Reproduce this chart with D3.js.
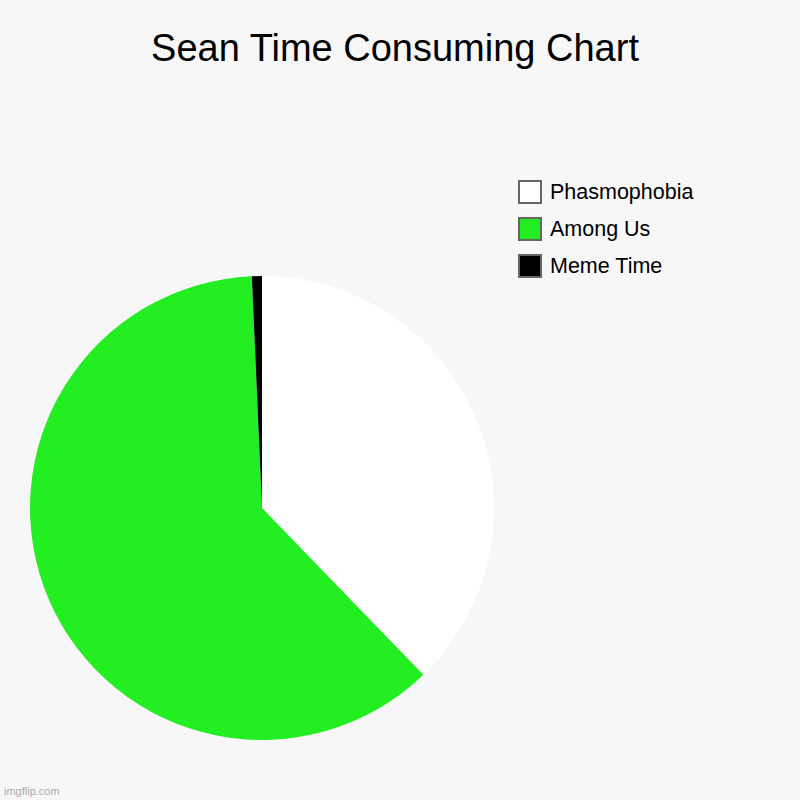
<!DOCTYPE html>
<html>
<head>
<meta charset="utf-8">
<script src="https://cdn.jsdelivr.net/npm/d3@7"></script>
<style>
  body { margin: 0; background: #f7f7f7; }
  svg { display: block; font-family: "Liberation Sans", Arial, sans-serif; }
</style>
</head>
<body>
<div id="chart"></div>
<script>
// chart data
var labels = ["Phasmophobia", "Among Us", "Meme Time"];
var values = [54, 88, 1];
var colors = ["#ffffff", "#22ee22", "#000000"];
var title = "Sean Time Consuming Chart";

var width = 800, height = 800;
var cx = 262, cy = 508, radius = 232;

var svg = d3.select("#chart")
  .append("svg")
  .attr("width", width)
  .attr("height", height);

svg.append("rect")
  .attr("width", width)
  .attr("height", height)
  .attr("fill", "#f7f7f7");

// title
svg.append("text")
  .attr("x", 395)
  .attr("y", 61)
  .attr("text-anchor", "middle")
  .attr("font-size", 38)
  .attr("fill", "#000")
  .text(title);

var pie = d3.pie().sort(null).value(d => d);
var arc = d3.arc().innerRadius(0).outerRadius(radius);

var g = svg.append("g")
  .attr("transform", `translate(${cx},${cy})`);

g.selectAll("path")
  .data(pie(values))
  .join("path")
    .attr("d", arc)
    .attr("fill", (d, i) => colors[i]);

// legend
var legend = svg.append("g")
  .attr("transform", "translate(519,181)");

var row = legend.selectAll("g")
  .data(labels)
  .join("g")
    .attr("transform", (d, i) => `translate(0,${i * 37})`);

row.append("rect")
  .attr("width", 22)
  .attr("height", 22)
  .attr("fill", (d, i) => colors[i])
  .attr("stroke", "#666")
  .attr("stroke-width", 2);

row.append("text")
  .attr("x", 31)
  .attr("y", 18)
  .attr("font-size", 21.5)
  .attr("fill", "#000")
  .text(d => d);

// watermark
svg.append("text")
  .attr("x", 4)
  .attr("y", 795)
  .attr("font-size", 11)
  .attr("fill", "#aaa")
  .text("imgflip.com");
</script>
</body>
</html>
